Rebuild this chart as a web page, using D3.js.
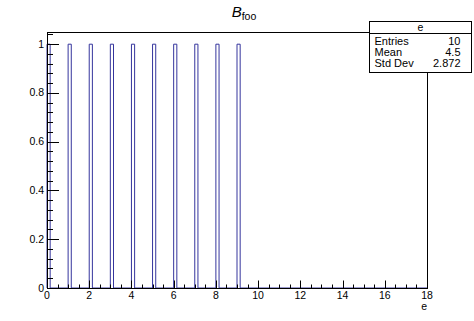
<!DOCTYPE html>
<html>
<head>
<meta charset="utf-8">
<script src="https://cdn.jsdelivr.net/npm/d3@7"></script>
<style>
  body { margin: 0; background: #fff; }
  text { font-family: "Liberation Sans", Arial, sans-serif; }
</style>
</head>
<body>
<svg id="chart" width="474" height="321"></svg>
<script>
// histogram contents (bin low edges, bin width, counts)
const binLow = [0, 1, 2, 3, 4, 5, 6, 7, 8, 9];
const binCounts = [1, 1, 1, 1, 1, 1, 1, 1, 1, 1];
const binWidth = 0.15;
const xDomain = [0, 18];
const yDomain = [0, 1.05];
const xTicks = [0, 2, 4, 6, 8, 10, 12, 14, 16, 18];
const yTicks = [0, 0.2, 0.4, 0.6, 0.8, 1];
const statNames = ["Entries", "Mean", "Std Dev"];
const statValues = ["10", "4.5", "2.872"];

const margin = {top: 32, right: 47, bottom: 33, left: 47};
const width = 474, height = 321;

const svg = d3.select("#chart");

const x = d3.scaleLinear().domain(xDomain).range([margin.left, width - margin.right]);
const y = d3.scaleLinear().domain(yDomain).range([height - margin.bottom, margin.top]);

// step outline, like ROOT draws it
let pts = [[xDomain[0], 0]];
binLow.forEach((lo, i) => {
    pts.push([lo, 0], [lo, binCounts[i]], [lo + binWidth, binCounts[i]], [lo + binWidth, 0]);
});
pts.push([xDomain[1], 0]);

svg.append("path")
    .attr("d", d3.line().x(d => x(d[0])).y(d => y(d[1]))(pts))
    .attr("fill", "none")
    .attr("stroke", "#35359d")
    .attr("stroke-width", 1);

// frame
svg.append("rect")
    .attr("x", x(xDomain[0]) + 0.5).attr("y", y(yDomain[1]) + 0.5)
    .attr("width", x(xDomain[1]) - x(xDomain[0]))
    .attr("height", y(yDomain[0]) - y(yDomain[1]))
    .attr("fill", "none").attr("stroke", "#000").attr("stroke-width", 1);

// x axis ticks pointing up
const xMinor = d3.range(0, 18.01, 0.5);
svg.append("g").selectAll("line").data(xMinor).join("line")
    .attr("x1", d => Math.round(x(d)) + 0.5).attr("x2", d => Math.round(x(d)) + 0.5)
    .attr("y1", y(0)).attr("y2", d => y(0) - (xTicks.includes(d) ? 7.5 : 3.5))
    .attr("stroke", "#000");

svg.append("g").selectAll("text").data(xTicks).join("text")
    .attr("x", d => x(d)).attr("y", y(0) + 11)
    .attr("text-anchor", "middle")
    .style("font-size", "10.5px")
    .text(d => d);

// y axis ticks pointing right
const yMinor = d3.range(0, 1.0401, 0.04);
svg.append("g").selectAll("line").data(yMinor).join("line")
    .attr("x1", x(0)).attr("x2", d => x(0) + (yTicks.some(t => Math.abs(t - d) < 1e-6) ? 12 : 6))
    .attr("y1", d => Math.round(y(d)) + 0.5).attr("y2", d => Math.round(y(d)) + 0.5)
    .attr("stroke", "#000");

svg.append("g").selectAll("text").data(yTicks).join("text")
    .attr("x", x(0) - 3).attr("y", d => y(d) + 3.5)
    .attr("text-anchor", "end")
    .style("font-size", "10.5px")
    .text(d => d);

// x axis title
svg.append("text")
    .attr("x", x(18)).attr("y", 310)
    .attr("text-anchor", "end")
    .style("font-size", "10.5px")
    .text("e");

// title
const title = svg.append("text")
    .attr("x", 244).attr("y", 17)
    .attr("text-anchor", "middle");
title.append("tspan").style("font-style", "italic").style("font-size", "15px").text("B");
title.append("tspan").attr("dy", 3).style("font-size", "10.5px").text("foo");

// stats box
const box = {x: 369.5, y: 21.5, w: 102, h: 51, head: 12};
svg.append("rect")
    .attr("x", box.x).attr("y", box.y).attr("width", box.w).attr("height", box.h)
    .attr("fill", "#fff").attr("stroke", "#000");
svg.append("line")
    .attr("x1", box.x).attr("x2", box.x + box.w)
    .attr("y1", box.y + box.head).attr("y2", box.y + box.head)
    .attr("stroke", "#000");
svg.append("text")
    .attr("x", box.x + box.w / 2).attr("y", box.y + 9.5)
    .attr("text-anchor", "middle")
    .style("font-size", "10.5px")
    .text("e");
statNames.forEach((name, i) => {
    svg.append("text")
        .attr("x", box.x + 5).attr("y", box.y + 23.5 + i * 11)
        .style("font-size", "11px")
        .text(name);
    svg.append("text")
        .attr("x", box.x + box.w - 11).attr("y", box.y + 23.5 + i * 11)
        .attr("text-anchor", "end")
        .style("font-size", "11px")
        .text(statValues[i]);
});
</script>
</body>
</html>
